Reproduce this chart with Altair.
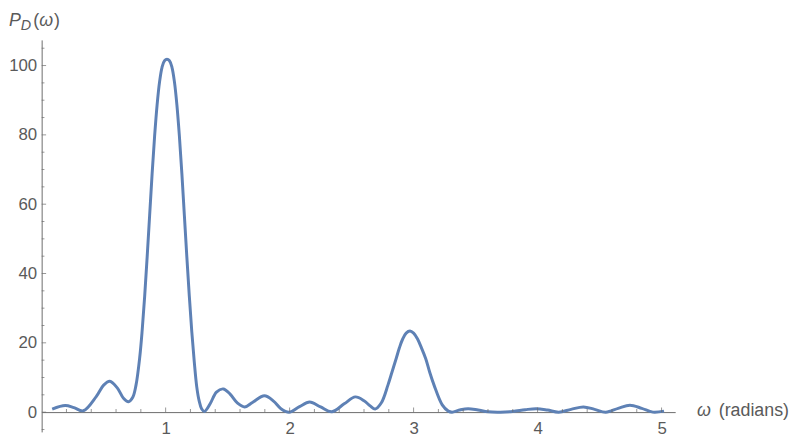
import altair as alt
import pandas as pd

# Curve samples (omega, P_D)
omega = [0.085, 0.19, 0.26, 0.336, 0.44, 0.50, 0.55, 0.61, 0.66, 0.70, 0.735, 0.761,
         0.791, 0.811, 0.831, 0.851, 0.871, 0.891, 0.911, 0.931, 0.951, 0.971, 0.991,
         1.011, 1.031, 1.051, 1.071, 1.091, 1.111, 1.131, 1.151, 1.171, 1.191, 1.211,
         1.231, 1.251, 1.27, 1.29, 1.313, 1.36, 1.41, 1.465, 1.52,
         1.58, 1.637, 1.70, 1.797, 1.87, 1.93, 1.996, 2.08, 2.161, 2.25, 2.34, 2.44,
         2.53, 2.60, 2.65, 2.69, 2.74, 2.793, 2.826, 2.859, 2.885, 2.912, 2.94, 2.971,
         3.0, 3.032, 3.065, 3.098, 3.13, 3.165, 3.231, 3.28, 3.31, 3.37, 3.44, 3.52,
         3.60, 3.70, 3.80, 3.90, 3.99, 4.08, 4.17, 4.27, 4.37, 4.46, 4.55, 4.65,
         4.745, 4.84, 4.93, 5.02]
power = [0.9, 1.9, 1.3, 0.4, 4.5, 7.8, 8.9, 7.0, 4.0, 3.0, 4.3, 7.8,
         15.8, 23.7, 33.5, 44.8, 56.8, 68.8, 79.6, 88.6, 95.3, 99.5, 101.4,
         101.8, 101.4, 99.5, 95.3, 88.6, 79.6, 68.8, 56.8, 44.8, 33.5, 23.2,
         14.5, 7.3, 3.3, 1.0, 0.2, 2.5, 5.8, 6.7, 5.2,
         2.6, 1.5, 2.8, 4.7, 3.2, 1.0, 0.0, 1.6, 2.9, 1.5, 0.1, 2.4,
         4.4, 3.3, 1.8, 0.9, 2.7, 7.8, 11.6, 15.4, 18.5, 21.1, 22.8, 23.4,
         22.8, 21.1, 18.4, 15.4, 11.5, 7.8, 2.1, 0.3, 0.0, 0.6, 1.0, 0.6,
         0.1, 0.0, 0.2, 0.7, 1.0, 0.6, 0.0, 0.8, 1.5, 0.8, 0.0, 1.1,
         2.0, 1.1, 0.0, 0.3]

x_major = [1, 2, 3, 4, 5]
x_minor = [0.2, 0.4, 0.6, 0.8, 1.2, 1.4, 1.6, 1.8, 2.2, 2.4, 2.6, 2.8, 3.2, 3.4,
           3.6, 3.8, 4.2, 4.4, 4.6, 4.8]
y_major = [0, 20, 40, 60, 80, 100]
y_minor = [-5, 5, 10, 15, 25, 30, 35, 45, 50, 55, 65, 70, 75, 85, 90, 95, 105]

X_DOMAIN = [0, 5.11]
Y_DOMAIN = [-5.7, 107.4]
W, H = 640, 396
AXIS_COLOR = "#6b6b6b"
LABEL_COLOR = "#5a5a5a"
FONT = "Liberation Sans"

xs = alt.Scale(domain=X_DOMAIN, nice=False, zero=False)
ys = alt.Scale(domain=Y_DOMAIN, nice=False, zero=False)

xaxis = alt.Axis(
    values=x_major, title=None, grid=False, ticks=False, tickSize=0,
    offset=-20, labelPadding=9, labelFontSize=17, labelColor=LABEL_COLOR,
    labelFont=FONT, domainColor=AXIS_COLOR, domainWidth=1, labelFlush=False)
yaxis = alt.Axis(
    values=y_major, title=None, grid=False, ticks=False, tickSize=0,
    labelPadding=5, labelFontSize=17, labelColor=LABEL_COLOR, labelFont=FONT,
    domainColor=AXIS_COLOR, domainWidth=1, labelFlush=False)

curve = alt.Chart(pd.DataFrame({"w": omega, "p": power})).mark_line(
    color="#5E81B5", strokeWidth=3, interpolate="catmull-rom"
).encode(
    x=alt.X("w:Q", scale=xs, axis=xaxis, title=None),
    y=alt.Y("p:Q", scale=ys, axis=yaxis, title=None),
)

def xticks(vals, size):
    return alt.Chart(pd.DataFrame({"w": vals})).mark_tick(
        orient="vertical", size=size, thickness=1, color=AXIS_COLOR, yOffset=-size / 2
    ).encode(x=alt.X("w:Q", scale=xs, axis=xaxis, title=None),
             y=alt.YDatum(0, scale=ys, axis=yaxis, title=None))

def yticks(vals, size):
    return alt.Chart(pd.DataFrame({"p": vals})).mark_tick(
        orient="horizontal", size=size, thickness=1, color=AXIS_COLOR, xOffset=size / 2
    ).encode(y=alt.Y("p:Q", scale=ys, axis=yaxis, title=None),
             x=alt.XDatum(0, scale=xs, axis=xaxis, title=None))

one = pd.DataFrame({"a": [0]})

def label(text, x, y, size, italic=False):
    return alt.Chart(one).mark_text(
        text=text, align="left", baseline="alphabetic", fontSize=size,
        font=FONT, color=LABEL_COLOR, fontStyle="italic" if italic else "normal"
    ).encode(x=alt.value(x), y=alt.value(y))

labels = [
    label("P", -33, -14, 18, True),
    label("D", -21, -10, 14.5, True),
    label("(", -8.5, -14, 18),
    label("ω", -2.5, -14, 18, True),
    label(")", 12.5, -14, 18),
    label("ω", 662, 380, 18, True),
    label("(radians)", 684, 380, 18),
]

chart = alt.layer(
    curve,
    xticks(x_minor, 3.2), xticks(x_major, 4.6),
    yticks(y_minor, 2.8), yticks(y_major, 4.5),
    *labels
).properties(
    width=W, height=H,
    autosize=alt.AutoSizeParams(type="none"),
    padding={"left": 34, "top": 30, "right": 118, "bottom": 10},
    background="white",
).configure_view(strokeWidth=0, stroke="transparent")

chart.save("out.html", embed_options={"renderer": "svg", "actions": False})
